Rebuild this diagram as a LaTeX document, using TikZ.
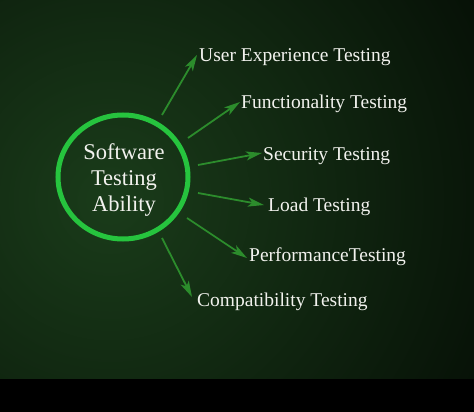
\documentclass[tikz,border=0pt]{standalone}
\usepackage{fontspec}
\setmainfont{Liberation Serif}
\usetikzlibrary{arrows.meta}
\definecolor{bginner}{RGB}{26,60,26}
\definecolor{bgouter}{RGB}{0,2,0}
\definecolor{ringgreen}{RGB}{38,196,62}
\definecolor{arrowgreen}{RGB}{44,140,44}
\definecolor{labelwhite}{RGB}{242,242,238}
\tikzset{
  label/.style={anchor=base west, inner sep=0pt, text=labelwhite, font=\fontsize{19.5}{22}\selectfont},
  centertext/.style={align=center, text=labelwhite, font=\fontsize{22.5}{27}\selectfont, inner sep=0pt},
  ring/.style={draw=ringgreen, line width=5pt},
  link/.style={draw=arrowgreen, line width=1.8pt, -{Stealth[length=16pt,width=9pt,inset=4pt]}},
}
\begin{document}
\begin{tikzpicture}[x=1pt,y=-1pt]
\useasboundingbox (0,0) rectangle (474,412);
\begin{scope}
  \clip (0,0) rectangle (474,379);
  \shade[inner color=bginner, outer color=bgouter] (110,200) circle (560);
\end{scope}
\fill[black] (0,379) rectangle (474,412);
% central circle
\draw[ring] (123,177) ellipse (65 and 62);
\node[centertext] (center) at (124,180) {Software\\[-1pt]Testing\\[-1pt]Ability};
% labels
\node[label] (ux) at (199,62) {User Experience Testing};
\node[label] (func) at (241,108) {Functionality Testing};
\node[label] (sec) at (263,160) {Security Testing};
\node[label] (load) at (268,211) {Load Testing};
\node[label] (perf) at (249,261) {PerformanceTesting};
\node[label] (comp) at (197,306) {Compatibility Testing};
% arrow tails and heads
\coordinate (t1) at (162,115);
\coordinate (t2) at (188,138);
\coordinate (t3) at (198,165);
\coordinate (t4) at (198,193);
\coordinate (t5) at (187,218);
\coordinate (t6) at (162,238);
\coordinate (h1) at (197,55);
\coordinate (h2) at (240,102);
\coordinate (h3) at (262,153);
\coordinate (h4) at (264,205);
\coordinate (h5) at (247,258);
\coordinate (h6) at (192,297);
\draw[link] (t1) -- (h1);
\draw[link] (t2) -- (h2);
\draw[link] (t3) -- (h3);
\draw[link] (t4) -- (h4);
\draw[link] (t5) -- (h5);
\draw[link] (t6) -- (h6);
\end{tikzpicture}
\end{document}
